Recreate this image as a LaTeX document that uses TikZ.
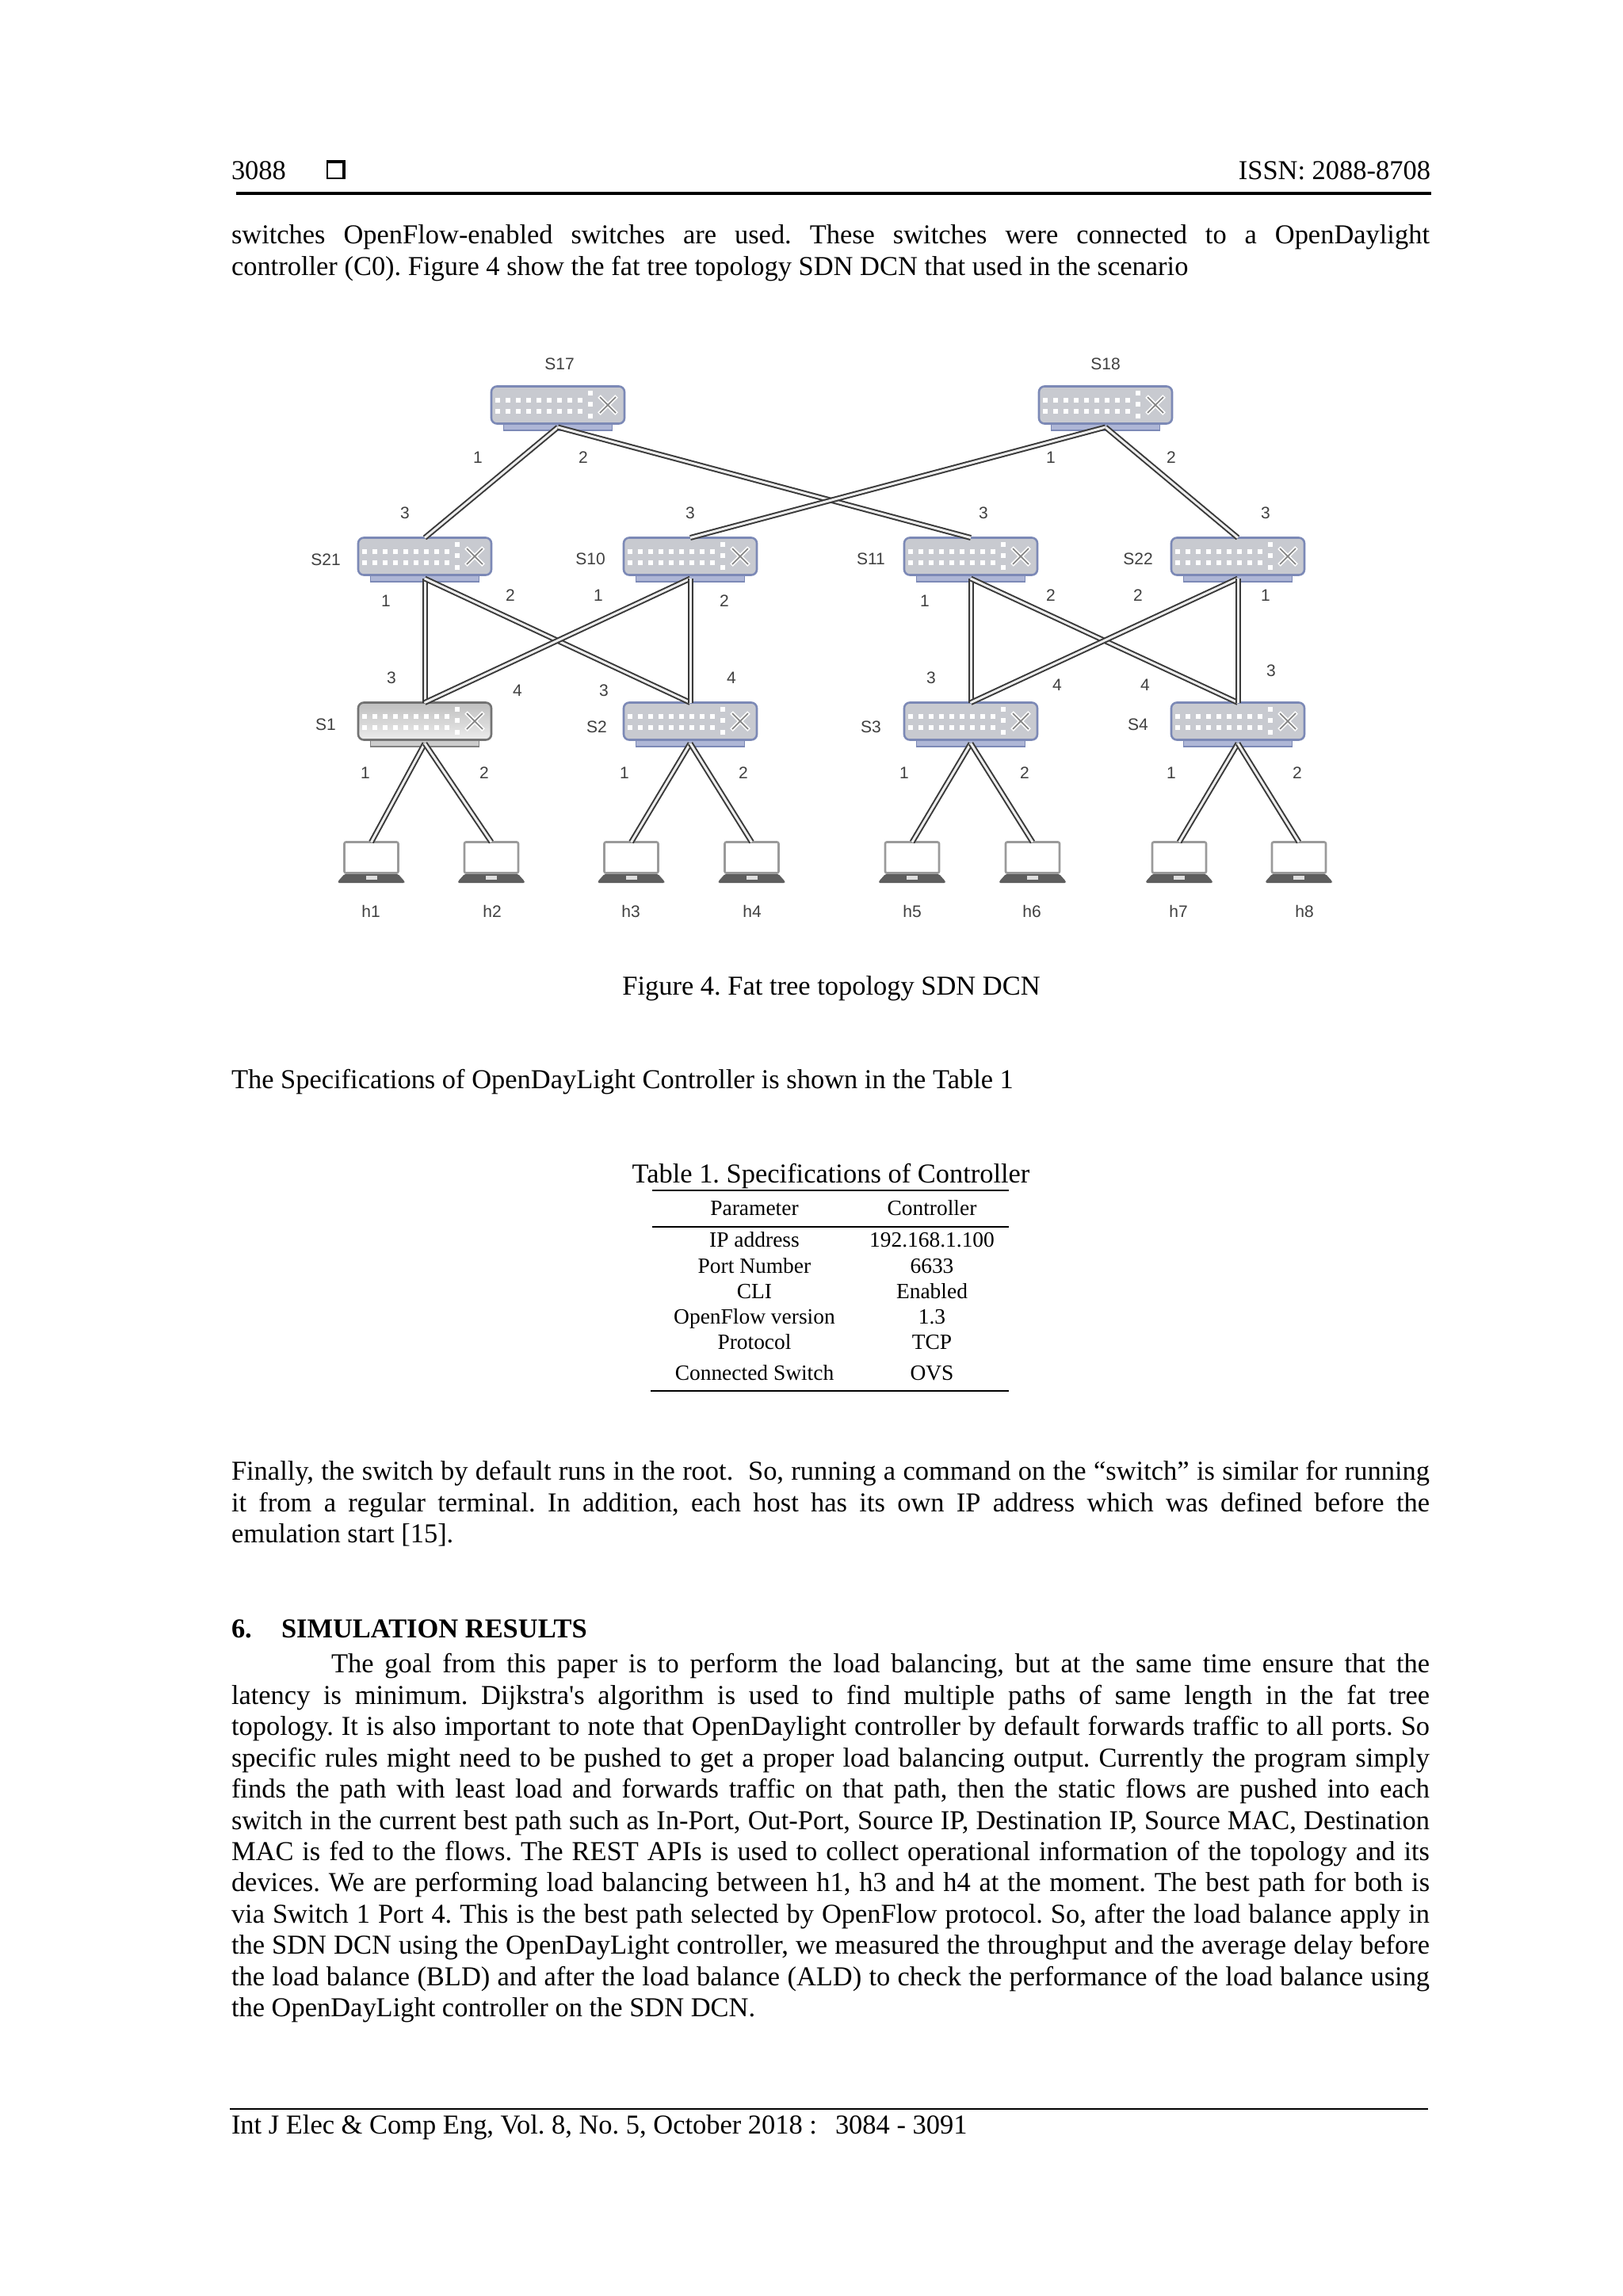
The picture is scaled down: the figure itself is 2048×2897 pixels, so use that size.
\documentclass[tikz,border=0pt]{standalone}
\usepackage{fontspec}
\setmainfont{Liberation Serif}[Ligatures=TeXOff]
\newfontfamily\labelfont{Liberation Sans}
\newcommand\bodysize{\fontsize{34.45}{40}\selectfont}
\newcommand\tabsize{\fontsize{27.45}{33}\selectfont}
\definecolor{swfill}{HTML}{C8CAD0}
\definecolor{swedge}{HTML}{7C89B6}
\definecolor{swbase}{HTML}{AEB6D6}
\definecolor{lapedge}{HTML}{9A9A9A}
\definecolor{lapbase}{HTML}{5E5E5E}
\definecolor{linkc}{HTML}{3A3A3A}
\definecolor{linkin}{HTML}{EDEDED}
\definecolor{lab}{HTML}{404040}
\tikzset{
  txt/.style={inner sep=0pt,outer sep=0pt,anchor=base west,font=\bodysize},
  txtr/.style={inner sep=0pt,outer sep=0pt,anchor=base east,font=\bodysize},
  txtc/.style={inner sep=0pt,outer sep=0pt,anchor=base,font=\bodysize},
  tabtxt/.style={inner sep=0pt,outer sep=0pt,anchor=base,font=\tabsize},
  lbl/.style={inner sep=0pt,outer sep=0pt,anchor=center,text=lab,font=\labelfont\fontsize{21}{24}\selectfont},
  swbody/.style={rectangle,rounded corners=7pt,draw=swedge,fill=swfill,line width=2.6pt,minimum width=168pt,minimum height=47pt,inner sep=0pt,outer sep=0pt},
  swfoot/.style={rectangle,draw=swedge,fill=swbase,line width=1.2pt,minimum width=137pt,minimum height=8pt,inner sep=0pt,outer sep=0pt},
  swbodyg/.style={swbody,draw=gray!90!black,top color=gray!50,bottom color=gray!15},
  swfootg/.style={swfoot,draw=gray,fill=gray!40},
  screen/.style={rectangle,rounded corners=2pt,draw=lapedge,fill=white,line width=2.6pt,minimum width=68pt,minimum height=39pt,inner sep=0pt,outer sep=0pt},
  link/.style={draw=linkc,double=linkin,line width=2pt,double distance=3pt},
  rulel/.style={draw=black,line width=1.4pt},
}
\newcommand\swdeco[2]{%
  \foreach \k in {0,...,8}{%
    \fill[white] ({#1-76+13*\k-3},{#2-9}) rectangle ({#1-76+13*\k+3},{#2-3});
    \fill[white] ({#1-76+13*\k-3},{#2+5}) rectangle ({#1-76+13*\k+3},{#2+11});
  }%
  \foreach \k in {-15,-1,14}{\fill[white] ({#1+38},{#2+\k-3}) rectangle ({#1+44},{#2+\k+3});}
  \draw[white,line width=5pt] ({#1+52},{#2-11}) -- ({#1+74},{#2+11}) ({#1+74},{#2-11}) -- ({#1+52},{#2+11});
  \draw[gray,line width=1.5pt] ({#1+53},{#2-10}) -- ({#1+73},{#2+10}) ({#1+73},{#2-10}) -- ({#1+53},{#2+10});
}
% name, x, y(body centre)
\newcommand\switch[3]{%
  \node[swfoot] (#1b) at (#2,{#3+28}) {};
  \node[swbody] (#1) at (#2,#3) {};
  \swdeco{#2}{#3}
}
\newcommand\switchg[3]{%
  \node[swfootg] (#1b) at (#2,{#3+28}) {};
  \node[swbodyg] (#1) at (#2,#3) {};
  \swdeco{#2}{#3}
}
\newcommand\laptop[2]{%
  \node[screen] (#1) at (#2,1082) {};
  \fill[lapbase,rounded corners=1.5pt] ({#2-34},1103) -- ({#2+34},1103) -- ({#2+42},1112) -- ({#2+42},1114) -- ({#2-42},1114) -- ({#2-42},1112) -- cycle;
  \fill[gray!25] ({#2-7},1105) rectangle ({#2+7},1110);
}
\newcommand\jline[3]{\node[txt] (#1) at (292,#2) {\hbox to 1512pt{#3}};}
\newcommand\pline[3]{\node[txt] (#1) at (292,#2) {#3};}
\begin{document}
\frenchspacing
\begin{tikzpicture}[x=1pt,y=-1pt]
\useasboundingbox (0,0) rectangle (2048,2897);
\fill[white] (0,0) rectangle (2048,2897);

% page header
\node[txt] (pageno) at (292,226) {3088};
\node[txtr] (issn) at (1805,226) {ISSN: 2088-8708};
\draw[black,line width=2pt] (413,204) rectangle (434,225);
\fill[black] (412,202) rectangle (436,206);
\fill[black] (432,202) rectangle (436,226);
\coordinate (hrA) at (298,244);
\coordinate (hrB) at (1806,244);
\draw[black,line width=3.6pt] (hrA) -- (hrB);

\jline{a1}{307}{switches OpenFlow-enabled switches are used. These switches were connected to a OpenDaylight}
\pline{a2}{347}{controller (C0). Figure 4 show the fat tree topology SDN DCN that used in the scenario}

% switches and hosts
\switch{s17}{704}{511}
\switch{s18}{1395}{511}
\switch{s21}{536}{702}
\switch{s10}{871}{702}
\switch{s11}{1225}{702}
\switch{s22}{1562}{702}
\switchg{s1}{536}{910}
\switch{s2}{871}{910}
\switch{s3}{1225}{910}
\switch{s4}{1562}{910}
\laptop{h1}{468.5}
\laptop{h2}{620}
\laptop{h3}{796.5}
\laptop{h4}{948.5}
\laptop{h5}{1151}
\laptop{h6}{1303}
\laptop{h7}{1488}
\laptop{h8}{1639}
% links
\foreach \a/\b in {s17b/s21,s17b/s11,s18b/s10,s18b/s22,
  s21b/s1,s21b/s2,s10b/s1,s10b/s2,s11b/s3,s11b/s4,s22b/s3,s22b/s4,
  s1b/h1,s1b/h2,s2b/h3,s2b/h4,s3b/h5,s3b/h6,s4b/h7,s4b/h8}{
  \draw[link] (\a.center) -- (\b.north);
}

% switch names
\node[lbl] (n17) at (706,459) {S17};
\node[lbl] (n18) at (1395,459) {S18};
\node[lbl] (n21) at (411,706) {S21};
\node[lbl] (n10) at (745,705) {S10};
\node[lbl] (n11) at (1099,705) {S11};
\node[lbl] (n22) at (1436,705) {S22};
\node[lbl] (n1) at (411,914) {S1};
\node[lbl] (n2) at (753,917) {S2};
\node[lbl] (n3) at (1099,917) {S3};
\node[lbl] (n4) at (1436,914) {S4};
% port numbers
\foreach \t/\x/\y [count=\c] in {1/603/577,2/736/577,1/1326/577,2/1478/577,
  3/511/647,3/871/647,3/1241/647,3/1597/647,
  1/487/758,2/644/751,1/755/751,2/914/758,1/1167/758,2/1326/751,2/1436/751,1/1597/751,
  3/494/855,4/653/871,3/762/871,4/923/855,3/1175/855,4/1334/864,4/1445/864,3/1604/846,
  1/461/975,2/611/975,1/788/975,2/938/975,1/1141/975,2/1293/975,1/1478/975,2/1637/975}{
  \node[lbl] (p\c) at (\x,\y) {\t};
}
% host names
\foreach \t/\x in {h1/468,h2/621,h3/796,h4/949,h5/1151,h6/1302,h7/1487,h8/1646}{
  \node[lbl] (n\t) at (\x,1150) {\t};
}

\node[txtc] (figcap) at (1049,1255) {Figure 4. Fat tree topology SDN DCN};
\pline{b1}{1373}{The Specifications of OpenDayLight Controller is shown in the Table 1}

% table
\node[txtc] (tabcap) at (1048.5,1492) {Table 1. Specifications of Controller};
\coordinate (r1a) at (823,1502); \coordinate (r1b) at (1273,1502);
\coordinate (r2a) at (823,1548); \coordinate (r2b) at (1273,1548);
\coordinate (r3a) at (821,1755); \coordinate (r3b) at (1273,1755);
\draw[rulel] (r1a) -- (r1b);
\draw[rulel] (r2a) -- (r2b);
\draw[rulel] (r3a) -- (r3b);
\foreach \p/\v/\y [count=\c] in {Parameter/Controller/1533,IP address/192.168.1.100/1573,Port Number/6633/1606,CLI/Enabled/1638,OpenFlow version/1.3/1670,Protocol/TCP/1702,Connected Switch/OVS/1741}{
  \node[tabtxt] (tp\c) at (952,\y) {\p};
  \node[tabtxt] (tv\c) at (1176,\y) {\v};
}

\jline{c1}{1867}{Finally, the switch by default runs in the root.\ \ So, running a command on the “switch” is similar for running}
\jline{c2}{1907}{it from a regular terminal. In addition, each host has its own IP address which was defined before the}
\pline{c3}{1946}{emulation start [15].}

\node[txt,font=\bodysize\bfseries] (h6n) at (292,2066) {6.};
\node[txt,font=\bodysize\bfseries] (h6t) at (355,2066) {SIMULATION RESULTS};

\node[txt] (d1) at (418,2110.5) {\hbox to 1386pt{The goal from this paper is to perform the load balancing, but at the same time ensure that the}};
\jline{d2}{2150}{latency is minimum. Dijkstra's algorithm is used to find multiple paths of same length in the fat tree}
\jline{d3}{2189.5}{topology. It is also important to note that OpenDaylight controller by default forwards traffic to all ports. So}
\jline{d4}{2229}{specific rules might need to be pushed to get a proper load balancing output. Currently the program simply}
\jline{d5}{2268.5}{finds the path with least load and forwards traffic on that path, then the static flows are pushed into each}
\jline{d6}{2308}{switch in the current best path such as In-Port, Out-Port, Source IP, Destination IP, Source MAC, Destination}
\jline{d7}{2347.5}{MAC is fed to the flows. The REST APIs is used to collect operational information of the topology and its}
\jline{d8}{2386.5}{devices. We are performing load balancing between h1, h3 and h4 at the moment. The best path for both is}
\jline{d9}{2426.5}{via Switch 1 Port 4. This is the best path selected by OpenFlow protocol. So, after the load balance apply in}
\jline{d10}{2465.5}{the SDN DCN using the OpenDayLight controller, we measured the throughput and the average delay before}
\jline{d11}{2505.5}{the load balance (BLD) and after the load balance (ALD) to check the performance of the load balance using}
\pline{d12}{2544.5}{the OpenDayLight controller on the SDN DCN.}

% footer
\coordinate (frA) at (290,2661);
\coordinate (frB) at (1802,2661);
\draw[black,line width=2pt] (frA) -- (frB);
\node[txt] (foot) at (292,2692) {Int J Elec \& Comp Eng, Vol. 8, No. 5, October 2018 :\ \ \,3084 - 3091};
\end{tikzpicture}
\end{document}
